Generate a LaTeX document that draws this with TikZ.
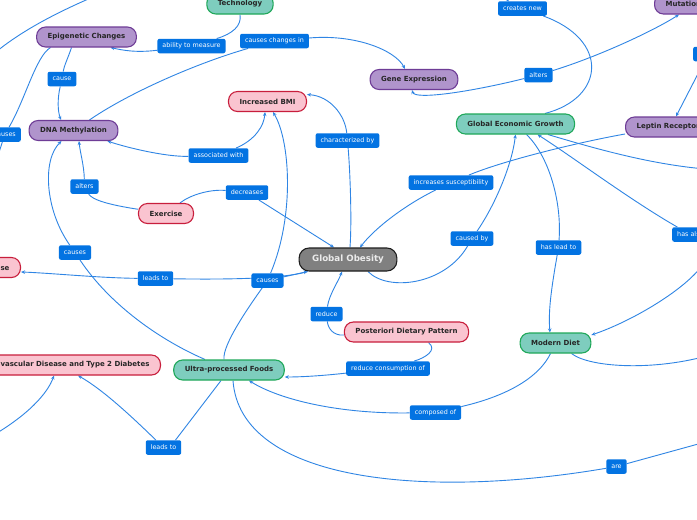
\documentclass[tikz,border=0pt]{standalone}
\usepackage{fontspec}
\setmainfont{DejaVu Sans}
\usetikzlibrary{arrows.meta}
\pgfdeclarelayer{bg}
\pgfsetlayers{bg,main}
\definecolor{lblblue}{RGB}{3,115,226}
\definecolor{linkblue}{RGB}{47,133,228}
\definecolor{grfill}{RGB}{126,205,190}
\definecolor{grline}{RGB}{32,168,90}
\definecolor{pufill}{RGB}{176,148,204}
\definecolor{puline}{RGB}{110,60,150}
\definecolor{pkfill}{RGB}{250,196,208}
\definecolor{pkline}{RGB}{200,30,60}
\definecolor{cefill}{RGB}{128,128,128}
\definecolor{celine}{RGB}{30,30,30}
\begin{document}
\begin{tikzpicture}[x=1pt,y=-1pt,
  topic/.style={rounded corners=9pt, line width=1.1pt, minimum height=20pt,
    inner xsep=11pt, inner ysep=0pt, font=\fontsize{7}{8}\selectfont\bfseries, text=black!85},
  greennode/.style={topic, fill=grfill, draw=grline},
  purpnode/.style={topic, fill=pufill, draw=puline},
  pinknode/.style={topic, fill=pkfill, draw=pkline},
  central/.style={rounded corners=10pt, line width=1.1pt, fill=cefill, draw=celine,
    minimum height=23pt, inner xsep=13pt, inner ysep=0pt,
    font=\fontsize{8.7}{10}\selectfont\bfseries, text=white!92!black},
  lbl/.style={fill=lblblue, text=white, rounded corners=2pt, minimum height=14.5pt,
    inner xsep=5pt, inner ysep=0pt, font=\fontsize{6.4}{7}\selectfont},
  link/.style={draw=linkblue, line width=0.9pt},
  arr/.style={link, -{Stealth[length=4pt,width=3.5pt]}}
]
\useasboundingbox (0,0) rectangle (697,520);

% topics
\node[greennode] (tech) at (240,4) {Technology};
\node[purpnode] (epi) at (86.5,37) {Epigenetic Changes};
\node[purpnode] (dna) at (73.5,130.5) {DNA Methylation};
\node[pinknode] (bmi) at (267.5,101.5) {Increased BMI};
\node[purpnode] (gene) at (414,79.5) {Gene Expression};
\node[greennode] (geg) at (515.5,124) {Global Economic Growth};
\node[purpnode, anchor=west] (mut) at (654,4) {Mutations};
\node[purpnode, anchor=west] (lep) at (625,127) {Leptin Receptor};
\node[pinknode] (exer) at (166,213.5) {Exercise};
\node[central] (obes) at (348,259.5) {Global Obesity};
\node[pinknode, anchor=east] (dis) at (21,267.5) {Disease};
\node[pinknode] (post) at (406.5,332) {Posteriori Dietary Pattern};
\node[pinknode, anchor=east] (cvd) at (161,365) {Cardiovascular Disease and Type 2 Diabetes};
\node[greennode] (ultra) at (229,370) {Ultra-processed Foods};
\node[greennode] (mod) at (555.5,343) {Modern Diet};

% labels
\node[lbl] (lcreate) at (522.5,8.5) {creates new};
\node[lbl] (labil) at (191.5,46) {ability to measure};
\node[lbl] (lcci) at (274.5,41) {causes changes in};
\node[lbl] (lalt1) at (538.5,75) {alters};
\node[lbl, anchor=west, minimum width=30pt] (lright) at (693,54) {};
\node[lbl] (lcause) at (62,79) {cause};
\node[lbl, anchor=east] (lcausesL) at (21,134.5) {causes};
\node[lbl] (lchar) at (347.5,140.5) {characterized by};
\node[lbl] (lassoc) at (218.5,155.5) {associated with};
\node[lbl] (lalt2) at (84.5,186.5) {alters};
\node[lbl] (ldecr) at (247,192.5) {decreases};
\node[lbl] (lincs) at (451,182.5) {increases susceptibility};
\node[lbl, anchor=west] (lhasal) at (672,234.5) {has also};
\node[lbl] (lcby) at (472,238.5) {caused by};
\node[lbl] (lhlt) at (558.5,247.5) {has lead to};
\node[lbl] (lcauses2) at (75,252.5) {causes};
\node[lbl] (lleads1) at (155.5,278.5) {leads to};
\node[lbl] (lcauses3) at (267.5,280.5) {causes};
\node[lbl] (lreduce) at (326.5,314) {reduce};
\node[lbl] (lrco) at (388,368.5) {reduce consumption of};
\node[lbl] (lcomp) at (435.5,412.5) {composed of};
\node[lbl] (lleads2) at (163.5,447.5) {leads to};
\node[lbl] (lare) at (616.5,466.5) {are};

% free ends
\coordinate (offL) at (-6,168);
\coordinate (tl1) at (-10,57);
\coordinate (tl2) at (100,-6);
\coordinate (offtop) at (492,-8);
\coordinate (offr1) at (720,170);
\coordinate (offr2) at (720,352);
\coordinate (offr3) at (720,438);
\coordinate (offbl) at (-15,440);

\begin{pgfonlayer}{bg}
\fill[white] (0,0) rectangle (697,520);
\draw[link] (tech.south) .. controls (242,26) and (232,34) .. (labil);
\draw[arr] (labil) .. controls (135,53) and (122,50) .. ([xshift=24pt]epi.south);
\draw[link] ([xshift=16pt]dna.north) .. controls (130,92) and (200,62) .. (lcci);
\draw[arr] (lcci) .. controls (355,34) and (395,50) .. ([xshift=-9pt]gene.north);
\draw[link] ([xshift=-15pt]epi.south) .. controls (68,58) and (64,66) .. (lcause);
\draw[arr] (lcause) .. controls (57,100) and (58,112) .. ([xshift=-12.5pt]dna.north);
\draw[link] ([xshift=-36pt]epi.south) .. controls (36,56) and (25,100) .. (lcausesL);
\draw[link] (lcausesL) -- (offL);
\draw[link] (tl1) .. controls (15,35) and (50,15) .. (tl2);
\draw[arr] (lassoc) .. controls (165,157) and (125,147) .. ([xshift=-11pt]dna.south east);
\draw[arr] (lassoc) .. controls (255,140) and (264,126) .. ([xshift=-2.5pt]bmi.south);
\draw[link] (exer) .. controls (110,205) and (92,200) .. (lalt2);
\draw[arr] (lalt2) .. controls (84,165) and (80,152) .. ([xshift=5.5pt]dna.south);
\draw[link] ([xshift=14pt]exer.north) .. controls (190,195) and (210,189) .. (ldecr);
\draw[arr] (ldecr) -- ([xshift=-14pt]obes.north);
\draw[link] ([xshift=2pt]obes.north) .. controls (352,220) and (350,170) .. (lchar);
\draw[arr] (lchar) .. controls (345,115) and (330,96) .. (bmi.10);
\draw[link] ([xshift=-5pt]ultra.north) .. controls (222,345) and (250,305) .. (lcauses3);
\draw[arr] (lcauses3) -- ([xshift=9pt]obes.south west);
\draw[arr] (lcauses3) .. controls (295,215) and (290,140) .. ([xshift=5.5pt]bmi.south);
\draw[link] ([xshift=9pt]obes.south west) .. controls (290,277) and (250,280) .. (lleads1);
\draw[arr] (lleads1) .. controls (100,278) and (50,273) .. ([yshift=-4.5pt]dis.east);
\draw[arr] (lcauses2) .. controls (45,210) and (42,160) .. ([xshift=-12pt]dna.south);
\draw[link] ([xshift=-24pt]ultra.north) .. controls (160,340) and (110,305) .. (lcauses2);
\draw[link] ([yshift=-3pt]post.west) .. controls (333,336) and (328,328) .. (lreduce);
\draw[arr] (lreduce) .. controls (329,295) and (338,282) .. ([xshift=-6pt]obes.south);
\draw[link] ([xshift=22pt]post.south) .. controls (438,350) and (425,358) .. (lrco);
\draw[arr] (lrco) .. controls (320,376) and (300,377) .. ([yshift=-7pt]ultra.east);
\draw[link] ([xshift=29.5pt]geg.north) .. controls (605,98) and (610,40) .. (lcreate);
\draw[link] (lcreate) -- (offtop);
\draw[arr] (lalt1) .. controls (470,92) and (415,100) .. ([xshift=-2pt]gene.south);
\draw[arr] (lalt1) .. controls (600,56) and (655,30) .. ([xshift=25pt]mut.south west);
\draw[arr] (lright) -- ([xshift=51pt]lep.north west);
\draw[link] ([yshift=-7pt]lep.west) .. controls (580,142) and (505,160) .. (lincs);
\draw[arr] (lincs) .. controls (405,205) and (375,228) .. ([xshift=12pt]obes.north);
\draw[link] ([xshift=20pt]obes.south) .. controls (388,292) and (445,285) .. (lcby);
\draw[arr] (lcby) .. controls (495,205) and (512,165) .. (geg.south);
\draw[link] ([xshift=11pt]geg.south) .. controls (548,155) and (562,200) .. (lhlt);
\draw[arr] (lhlt) .. controls (552,285) and (548,310) .. ([xshift=-5.5pt]mod.north);
\draw[arr] (lhasal) .. controls (630,200) and (570,155) .. ([xshift=22pt]geg.south);
\draw[arr] (lhasal) .. controls (730,260) and (650,315) .. ([yshift=8pt]mod.east);
\draw[link] ([xshift=32.5pt]geg.south) .. controls (600,150) and (660,167) .. (offr1);
\draw[link] ([xshift=16pt]mod.south) .. controls (590,368) and (660,372) .. (offr2);
\draw[link] ([xshift=-5pt]mod.south) .. controls (535,385) and (490,400) .. (lcomp);
\draw[arr] (lcomp) .. controls (340,414) and (280,400) .. ([xshift=20pt]ultra.south);
\draw[link] ([xshift=4pt]ultra.south) .. controls (240,480) and (420,500) .. (lare);
\draw[link] (lare) -- (offr3);
\draw[link] ([xshift=-8pt]ultra.south) -- ([xshift=12pt]lleads2.north);
\draw[arr] (lleads2) .. controls (125,410) and (100,388) .. ([xshift=-83pt]cvd.south east);
\draw[arr] (offbl) .. controls (30,415) and (48,392) .. ([xshift=-107pt]cvd.south east);
\end{pgfonlayer}
\end{tikzpicture}
\end{document}
